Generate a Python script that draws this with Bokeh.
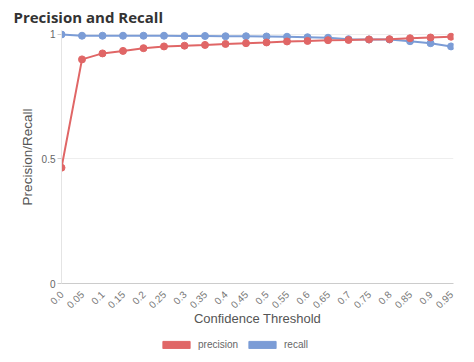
from bokeh.plotting import figure
from bokeh.layouts import column
from bokeh.models import FixedTicker, Legend, LegendItem, Range1d
from bokeh.embed import file_html
from bokeh.resources import INLINE
import math

thresholds = [0.0, 0.05, 0.1, 0.15, 0.2, 0.25, 0.3, 0.35, 0.4, 0.45,
              0.5, 0.55, 0.6, 0.65, 0.7, 0.75, 0.8, 0.85, 0.9, 0.95]
tick_labels = ["0.0", "0.05", "0.1", "0.15", "0.2", "0.25", "0.3", "0.35", "0.4", "0.45",
               "0.5", "0.55", "0.6", "0.65", "0.7", "0.75", "0.8", "0.85", "0.9", "0.95"]
precision = [0.465, 0.900, 0.924, 0.934, 0.945, 0.952, 0.955, 0.958, 0.962, 0.965,
             0.968, 0.972, 0.974, 0.977, 0.978, 0.980, 0.981, 0.985, 0.988, 0.991]
recall = [1.0, 0.995, 0.995, 0.995, 0.995, 0.995, 0.994, 0.994, 0.993, 0.993,
          0.992, 0.991, 0.989, 0.987, 0.981, 0.980, 0.980, 0.973, 0.965, 0.952]
y_ticks = [0, 0.5, 1]
y_tick_labels = ["0", "0.5", "1"]

RED = "#e06666"
BLUE = "#7b9cd6"
FONT = "Liberation Sans"

p = figure(width=458, height=338, output_backend="svg", toolbar_location=None,
           x_range=Range1d(0, 0.956), y_range=Range1d(0, 1.016),
           min_border_left=61, min_border_right=5, min_border_top=10, min_border_bottom=55)
p.outline_line_color = None

p.title.text = "Precision and Recall"
p.title.text_font = "Open Sans"
p.title.text_font_size = "15px"
p.title.text_font_style = "bold"
p.title.text_color = "#333333"
p.title.offset = -48
p.title.standoff = 8

lr = p.line(thresholds, recall, line_color=BLUE, line_width=2)
cr = p.scatter(thresholds, recall, size=7, fill_color=BLUE, line_color=BLUE)
lp = p.line(thresholds, precision, line_color=RED, line_width=2)
cp = p.scatter(thresholds, precision, size=7, fill_color=RED, line_color=RED)

xa = p.xaxis[0]
xa.ticker = FixedTicker(ticks=thresholds)
xa.major_label_overrides = {t: l for t, l in zip(thresholds, tick_labels)}
xa.major_label_orientation = math.pi / 4
xa.major_label_text_font = FONT
xa.major_label_text_font_size = "10px"
xa.major_label_text_color = "#777777"
xa.axis_label = "Confidence Threshold"
xa.axis_label_text_font = FONT
xa.axis_label_text_font_size = "13px"
xa.axis_label_text_font_style = "normal"
xa.axis_label_text_color = "#555555"
xa.axis_label_standoff = -4
xa.axis_line_color = "#cccccc"
xa.major_tick_line_color = None
xa.minor_tick_line_color = None
xa.major_label_standoff = 3

ya = p.yaxis[0]
ya.ticker = FixedTicker(ticks=y_ticks)
ya.major_label_overrides = {t: l for t, l in zip(y_ticks, y_tick_labels)}
ya.major_label_text_font = FONT
ya.major_label_text_font_size = "10px"
ya.major_label_text_color = "#666666"
ya.axis_label = "Precision/Recall"
ya.axis_label_text_font = FONT
ya.axis_label_text_font_size = "13.5px"
ya.axis_label_text_font_style = "normal"
ya.axis_label_text_color = "#555555"
ya.axis_label_standoff = 4
ya.axis_line_color = "#e4e4e4"
ya.major_tick_line_color = "#cccccc"
ya.major_tick_out = 4
ya.major_tick_in = 0
ya.minor_tick_line_color = None
ya.major_label_standoff = 2

p.xgrid.grid_line_color = None
p.ygrid.grid_line_color = "#eeeeee"

# legend strip below the chart
leg = figure(width=458, height=12, output_backend="svg", toolbar_location=None,
             x_range=Range1d(0, 1), y_range=Range1d(0, 1),
             x_axis_type=None, y_axis_type=None,
             min_border_left=0, min_border_right=0, min_border_top=0, min_border_bottom=0)
leg.outline_line_color = None
leg.xgrid.visible = False
leg.ygrid.visible = False
sp = leg.quad(left=thresholds, right=thresholds, top=precision, bottom=precision,
              fill_color=RED, line_color=RED, visible=False)
sr = leg.quad(left=thresholds, right=thresholds, top=recall, bottom=recall,
              fill_color=BLUE, line_color=BLUE, visible=False)
legend = Legend(items=[LegendItem(label="precision", renderers=[sp]),
                       LegendItem(label="recall", renderers=[sr])],
                orientation="horizontal", location=(98, 0),
                glyph_width=34, glyph_height=9, label_height=12,
                label_text_font=FONT, label_text_font_size="10px",
                label_text_color="#666666", label_standoff=5, spacing=7,
                padding=0, margin=0, border_line_color=None,
                background_fill_alpha=0, inactive_fill_alpha=0)
leg.add_layout(legend, "center")

layout = column(p, leg, spacing=0)
open("out.html", "w").write(file_html(layout, INLINE))
